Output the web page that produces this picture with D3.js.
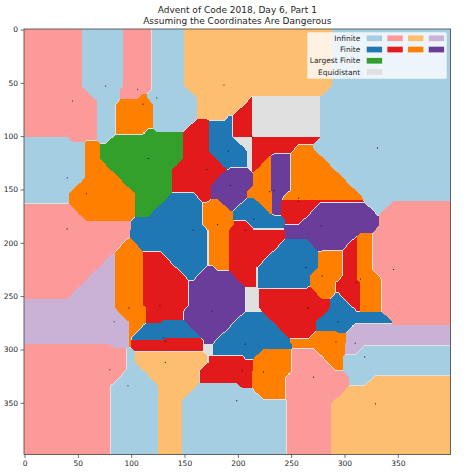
<!DOCTYPE html>
<html>
<head>
<meta charset="utf-8">
<script src="https://cdn.jsdelivr.net/npm/d3@7"></script>
<style>
html, body { margin: 0; padding: 0; background: #fff; }
text { font-family: "DejaVu Sans", sans-serif; fill: #262626; }
</style>
</head>
<body>
<div id="chart"></div>
<script>
var titleLines = ["Advent of Code 2018, Day 6, Part 1", "Assuming the Coordinates Are Dangerous"];
var tickValues = [0, 50, 100, 150, 200, 250, 300, 350];

var infiniteColors = ["#a6cee3", "#fb9a99", "#fdbf6f", "#cab2d6"];
var finiteColors = ["#1f78b4", "#e31a1c", "#ff7f00", "#6a3d9a"];
var largestColor = "#33a02c";
var tieColor = "#e0e0e0";
var legendLabels = ["Infinite", "Finite", "Largest Finite", "Equidistant"];

// i0-i3 infinite, f0-f3 finite, g largest finite
var seedX = [76, 106, 45, 124, 111, 187, 191, 116, 171, 40, 193, 58, 40, 158, 181, 331, 230, 234, 257, 257, 215, 207, 278, 98, 127, 84, 176, 130, 132, 132, 80, 97, 199, 346, 264, 279, 315, 311, 266, 294, 292, 310, 207, 319, 204, 224, 271, 329, 213, 214];
var seedY = [53, 56, 67, 64, 70, 52, 114, 121, 131, 139, 146, 154, 187, 188, 183, 111, 152, 151, 158, 161, 178, 188, 184, 261, 259, 274, 264, 289, 292, 312, 319, 334, 348, 225, 223, 231, 234, 237, 261, 274, 293, 294, 295, 307, 320, 321, 326, 351, 100, 101];
var seedKind = ["i0", "i1", "i1", "i0", "f2", "i2", "f0", "g", "f1", "i0", "f3", "f2", "i1", "f0", "f2", "i0", "f2", "f3", "f2", "f1", "f0", "f1", "f3", "f2", "f1", "i3", "f3", "f0", "f1", "i2", "i1", "i0", "i0", "i1", "f0", "f2", "f2", "f1", "f1", "f0", "f2", "i3", "f0", "i0", "f1", "f2", "i1", "i2", "f1", "f1"];

var kindColor = {
   i0: infiniteColors[0], i1: infiniteColors[1], i2: infiniteColors[2], i3: infiniteColors[3],
   f0: finiteColors[0], f1: finiteColors[1], f2: finiteColors[2], f3: finiteColors[3],
   g: largestColor, tie: tieColor
};

var w = 474, h = 474;
var left = 24, right = 450.6, top_ = 29, bottom = 454.5;
var cols = 400, rows = 400;

var x = d3.scaleLinear().domain([-0.5, cols - 0.5]).range([left, right]);
var y = d3.scaleLinear().domain([-0.5, rows - 0.5]).range([top_, top_ + (right - left)]);

var svg = d3.select("#chart").append("svg")
            .attr("width", w)
            .attr("height", h)
            .style("display", "block");

// nearest seed by manhattan distance, one path per colour built from row runs
var paths = {};
Object.keys(kindColor).forEach(function(k) { paths[k] = d3.path(); });

var kindAt = function(cx, cy) {
   var best = Infinity, kind = "tie";
   for (var i = 0; i < seedX.length; i++) {
      var d = Math.abs(seedX[i] - cx) + Math.abs(seedY[i] - cy);
      if (d < best) { best = d; kind = seedKind[i]; }
      else if (d === best) { kind = "tie"; }
   }
   return kind;
}

for (var cy = 0; cy < rows; cy++) {
   var runStart = 0;
   var runKind = kindAt(0, cy);
   for (var cx = 1; cx <= cols; cx++) {
      var k = cx < cols ? kindAt(cx, cy) : null;
      if (k !== runKind) {
         paths[runKind].rect(x(runStart - 0.5), y(cy - 0.5), x(cx - 0.5) - x(runStart - 0.5), y(cy + 0.5) - y(cy - 0.5));
         runStart = cx;
         runKind = k;
      }
   }
}

svg.append("clipPath").attr("id", "plot")
   .append("rect")
   .attr("x", left).attr("y", top_)
   .attr("width", right - left).attr("height", bottom - top_);

var cells = svg.append("g").attr("clip-path", "url(#plot)");

cells.selectAll("path")
     .data(Object.keys(paths))
     .enter().append("path")
     .attr("d", function(k) { return paths[k].toString(); })
     .attr("fill", function(k) { return kindColor[k]; })
     .attr("shape-rendering", "crispEdges");

cells.selectAll("circle")
     .data(seedX)
     .enter().append("circle")
     .attr("cx", function(d) { return x(d); })
     .attr("cy", function(d, i) { return y(seedY[i]); })
     .attr("r", 0.6)
     .attr("fill", "#111");

svg.append("rect")
   .attr("x", left).attr("y", top_)
   .attr("width", right - left).attr("height", bottom - top_)
   .attr("fill", "none")
   .attr("stroke", "#444")
   .attr("stroke-width", 0.8);

var xAxis = svg.append("g")
               .attr("transform", "translate(0," + bottom + ")")
               .call(d3.axisBottom(x).tickValues(tickValues).tickSize(3.5).tickPadding(2.5));
var yAxis = svg.append("g")
               .attr("transform", "translate(" + left + ",0)")
               .call(d3.axisLeft(y).tickValues(tickValues).tickSize(3.5).tickPadding(2.5));

[xAxis, yAxis].forEach(function(a) {
   a.select(".domain").remove();
   a.selectAll("line").attr("stroke", "#333").attr("stroke-width", 0.7);
   a.selectAll("text").style("font-family", "DejaVu Sans").style("font-size", "7.5px").attr("fill", "#262626");
});

svg.selectAll(".title")
   .data(titleLines)
   .enter().append("text")
   .attr("class", "title")
   .attr("x", (left + right) / 2)
   .attr("y", function(d, i) { return 12.7 + i * 11.2; })
   .attr("text-anchor", "middle")
   .style("font-size", "9px")
   .text(function(d) { return d; });

// legend
var legend = svg.append("g");

legend.append("rect")
      .attr("x", 307.3).attr("y", 32.3)
      .attr("width", 139.4).attr("height", 46.4)
      .attr("rx", 1.5)
      .attr("fill", "#fff")
      .attr("fill-opacity", 0.8);

var legendSwatches = [infiniteColors, finiteColors, [largestColor], [tieColor]];
var rowY = d3.scalePoint().domain(legendLabels).range([38.3, 72]);
var colX = d3.scalePoint().domain([0, 1, 2, 3]).range([366.7, 428.7]);

legend.selectAll("text")
      .data(legendLabels)
      .enter().append("text")
      .attr("x", 360.3)
      .attr("y", function(d) { return rowY(d); })
      .attr("dy", "0.36em")
      .attr("text-anchor", "end")
      .style("font-size", "7.5px")
      .text(function(d) { return d; });

legendLabels.forEach(function(label, r) {
   legend.selectAll(".row" + r)
         .data(legendSwatches[r])
         .enter().append("rect")
         .attr("class", "row" + r)
         .attr("x", function(d, i) { return colX(i); })
         .attr("y", rowY(label) - 2.85)
         .attr("width", 15.4)
         .attr("height", 5.7)
         .attr("fill", function(d) { return d; });
});
</script>
</body>
</html>
